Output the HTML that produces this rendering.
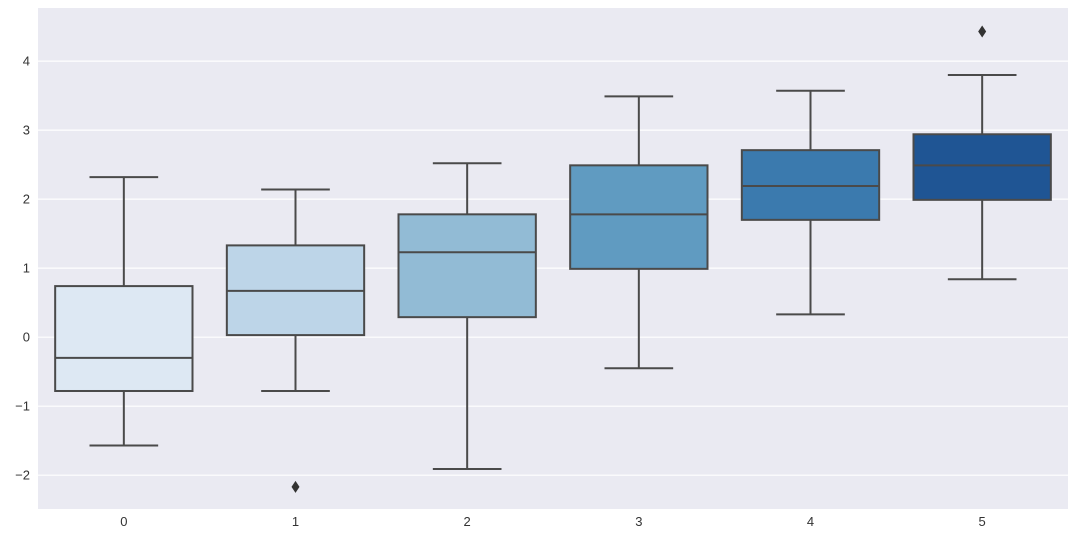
<!DOCTYPE html>
<html><head><meta charset="utf-8">
<style>
html,body{margin:0;padding:0;background:#fff;}
svg{display:block;font-family:"Liberation Sans",sans-serif;}
</style></head>
<body>
<svg id="chart" width="1080" height="533"></svg>
<script>
const categories = ["0","1","2","3","4","5"];
const whiskerLow = [-1.57,-0.78,-1.91,-0.45,0.33,0.84];
const q1Values = [-0.78,0.03,0.29,0.99,1.70,1.99];
const medianValues = [-0.30,0.67,1.23,1.78,2.19,2.49];
const q3Values = [0.74,1.33,1.78,2.49,2.71,2.94];
const whiskerHigh = [2.32,2.14,2.52,3.49,3.57,3.80];
const outliers = [[],[-2.17],[],[],[],[4.43]];
const yTicks = [-2,-1,0,1,2,3,4];
const colors = ["#dde8f3","#bdd5e8","#92bbd5","#609bc1","#3b7aae","#1f5594"];

const NS="http://www.w3.org/2000/svg";
const svg=document.getElementById('chart');
const L=38,R=1068,T=8,B=509;
const yMin=-2.49,yMax=4.77;
function y(v){return B-(v-yMin)/(yMax-yMin)*(B-T);}
const step=(R-L)/categories.length;
function x(i){return L+step*(i+0.5);}
function mk(tag,attrs,parent){const e=document.createElementNS(NS,tag);for(const k in attrs)e.setAttribute(k,attrs[k]);(parent||svg).appendChild(e);return e;}

const bg=mk('rect',{x:L,y:T,width:R-L,height:B-T,fill:'#eaeaf2'});



yTicks.forEach(t=>{
  const g=mk('line',{x1:L,x2:R,y1:y(t),y2:y(t),stroke:'#fff','stroke-width':1.2});
  
  
  const tx=mk('text',{x:L-8,y:y(t)+4.5,'text-anchor':'end','font-size':13,fill:'#333'});
  tx.textContent=t===0?'0':(t<0?'\u2212'+(-t):String(t));
  
  
});

const lc='#4a4a4a',lw=2;
const bw=step*0.8, cw=bw*0.5;
categories.forEach((c,i)=>{
  const cx=x(i);
  const g=mk('g',{});
  
  
  mk('line',{x1:cx,x2:cx,y1:y(whiskerLow[i]),y2:y(q1Values[i]),stroke:lc,'stroke-width':lw},g);
  mk('line',{x1:cx,x2:cx,y1:y(q3Values[i]),y2:y(whiskerHigh[i]),stroke:lc,'stroke-width':lw},g);
  mk('line',{x1:cx-cw/2,x2:cx+cw/2,y1:y(whiskerLow[i]),y2:y(whiskerLow[i]),stroke:lc,'stroke-width':lw},g);
  mk('line',{x1:cx-cw/2,x2:cx+cw/2,y1:y(whiskerHigh[i]),y2:y(whiskerHigh[i]),stroke:lc,'stroke-width':lw},g);
  mk('rect',{x:cx-bw/2,y:y(q3Values[i]),width:bw,height:y(q1Values[i])-y(q3Values[i]),fill:colors[i],stroke:lc,'stroke-width':lw},g);
  mk('line',{x1:cx-bw/2,x2:cx+bw/2,y1:y(medianValues[i]),y2:y(medianValues[i]),stroke:lc,'stroke-width':lw},g);
  outliers[i].forEach(o=>{
    const oy=y(o);
    const d=mk('path',{d:`M${cx},${oy-6} L${cx+4},${oy} L${cx},${oy+6} L${cx-4},${oy} Z`,fill:'#333'},g);
    
    
  });
  const tx=mk('text',{x:cx,y:B+17,'text-anchor':'middle','font-size':13,fill:'#333'});
  tx.textContent=c;
  
  
});
</script>
</body></html>
